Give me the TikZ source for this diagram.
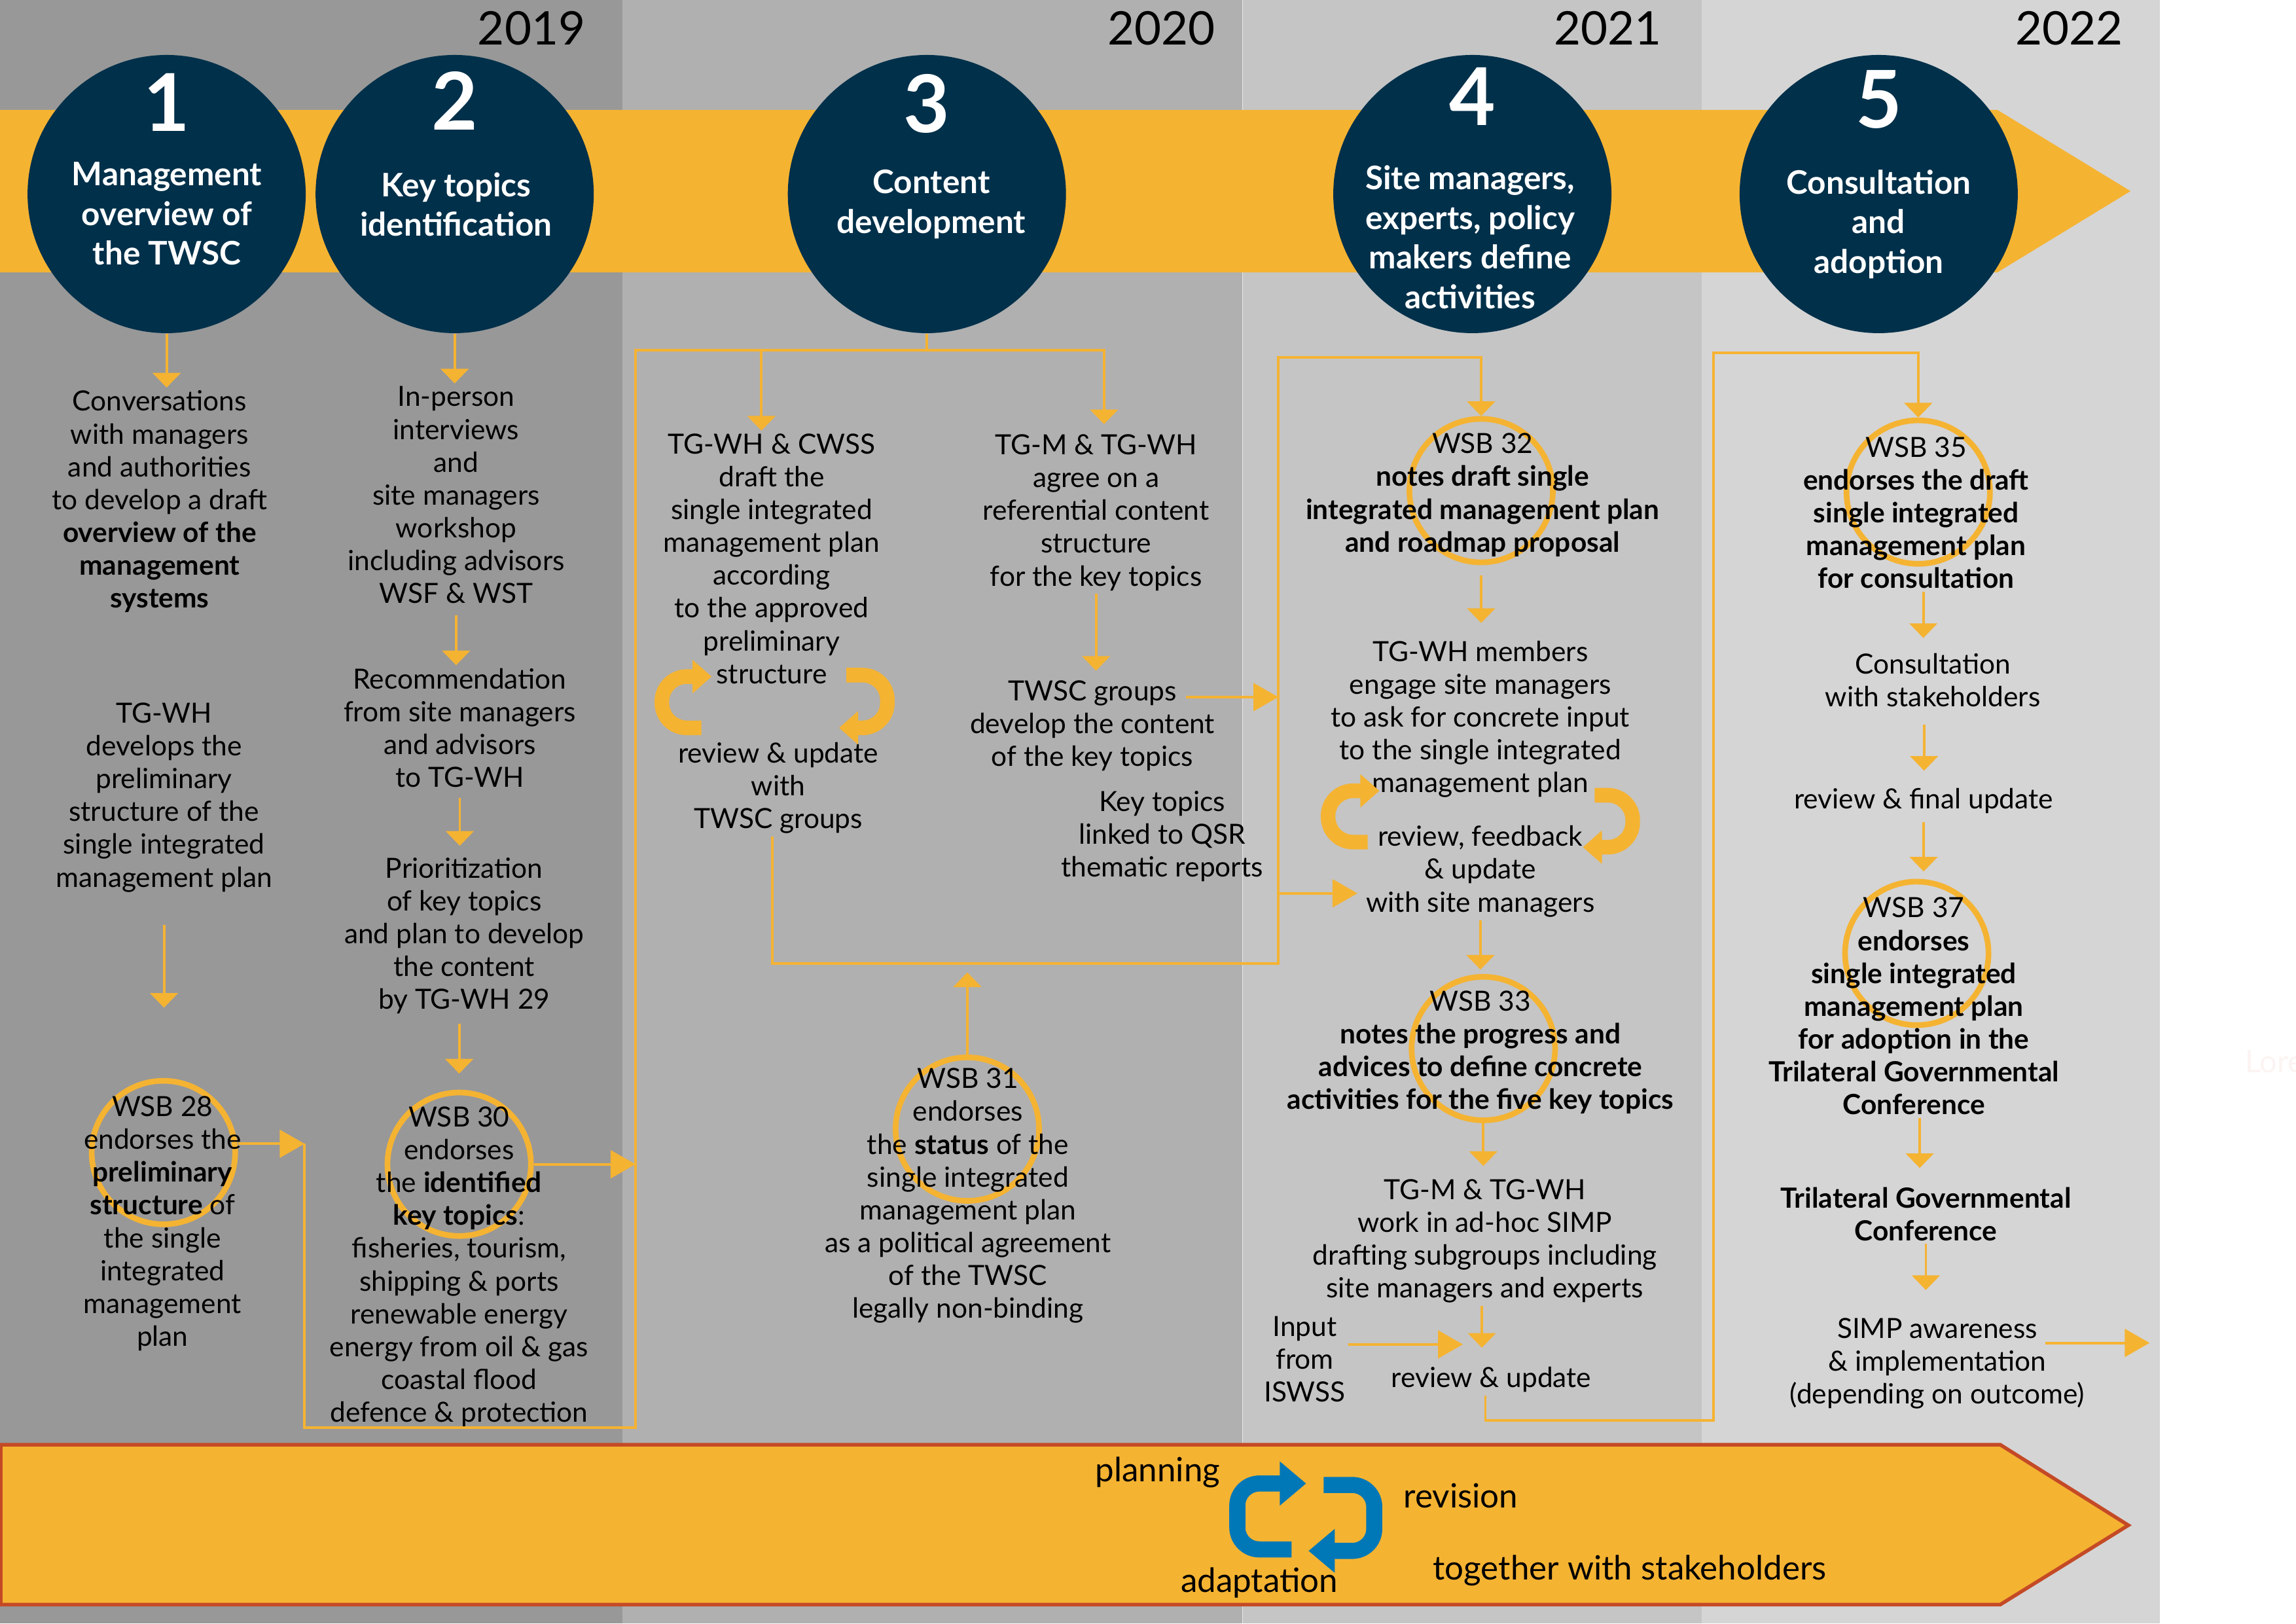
\documentclass[tikz,border=0pt]{standalone}
\usepackage{fontspec}
\setmainfont{Lato}
\usetikzlibrary{arrows.meta}
\definecolor{amber}{RGB}{245,179,50}
\definecolor{navy}{RGB}{0,48,74}
\definecolor{col19}{RGB}{152,152,152}
\definecolor{col20}{RGB}{176,176,176}
\definecolor{col21}{RGB}{197,197,197}
\definecolor{col22}{RGB}{213,213,213}
\definecolor{rust}{RGB}{196,74,38}
\definecolor{cycblue}{RGB}{0,120,183}
\definecolor{ghost}{RGB}{252,244,242}

\begin{document}
\begin{tikzpicture}[x=0.02cm,y=-0.02cm,
    disc/.style={circle,fill=navy,minimum size=3.8cm,inner sep=0pt},
    num/.style={text=white,inner sep=0pt,font=\bfseries\fontsize{31}{31}\selectfont},
    ttl/.style={text=white,align=center,font=\bfseries\fontsize{12.6}{15.4}\selectfont},
    txt/.style={align=center,inner sep=1pt,font=\fontsize{10.8}{12.75}\selectfont},
    ring/.style={circle,draw=amber,line width=2.2pt,minimum size=1.96cm,inner sep=0pt},
    year/.style={anchor=base east,inner sep=0pt,font=\fontsize{18}{18}\selectfont},
    link/.style={draw=amber,line width=1pt},
    flow/.style={link,-{Triangle[width=0.38cm,length=0.2cm]}},
    push/.style={link,-{Triangle[width=0.38cm,length=0.34cm]}},
    loopy/.style={draw=amber,line width=0.2cm,rounded corners=0.34cm,-{Triangle[width=0.44cm,length=0.26cm]}},
    bluey/.style={draw=cycblue,line width=0.22cm,rounded corners=0.3cm,-{Triangle[width=0.58cm,length=0.36cm]}},
    bandtxt/.style={inner sep=0pt,font=\fontsize{13}{15}\selectfont}]
\useasboundingbox (0,0) rectangle (1568,1108.5);
\fill[col19] (0,0) rectangle (425,1108.5);
\fill[col20] (425,0) rectangle (848.5,1108.5);
\fill[col21] (848.5,0) rectangle (1162,1108.5);
\fill[col22] (1162,0) rectangle (1475,1108.5);
\fill[white] (1475,0) rectangle (1568,1108.5);
\draw[white!60!col21,line width=0.4pt] (848.5,0) -- (848.5,1108.5);
\fill[amber] (0,75) -- (1364,75) -- (1455,130.5) -- (1364,186) -- (0,186) -- cycle;

\node[year] (y19) at (400,30.5) {2019};
\node[year] (y20) at (830,30.5) {2020};
\node[year] (y21) at (1135,30.5) {2021};
\node[year] (y22) at (1450,30.5) {2022};

\node[disc] (c1) at (113.8,132.5) {};
\node[disc] (c2) at (310.5,132.5) {};
\node[disc] (c3) at (633,132.5) {};
\node[disc] (c4) at (1005.5,132.5) {};
\node[disc] (c5) at (1283,132.5) {};
\node[num] (n1) at (113.8,70) {1};
\node[num] (n2) at (310.5,69) {2};
\node[num] (n3) at (633,71) {3};
\node[num] (n4) at (1005.5,66) {4};
\node[num] (n5) at (1283,68) {5};
\node[ttl] (t1) at (114,146) {Management\\overview of\\the TWSC};
\node[ttl] (t2) at (311.5,139.5) {Key topics\\identification};
\node[ttl] (t3) at (636,139.5) {Content\\development};
\node[ttl] (t4) at (1004,162) {Site managers,\\experts, policy\\makers define\\activities};
\node[ttl] (t5) at (1283,153) {Consultation\\and\\adoption};

\node[ring] (w28r) at (111.6,787) {};
\node[ring] (w30r) at (313.6,795) {};
\node[ring] (w31r) at (660.6,771) {};
\node[ring] (w32r) at (1011.5,335) {};
\node[ring] (w33r) at (1013,716) {};
\node[ring] (w35r) at (1310,336) {};
\node[ring] (w37r) at (1309,651) {};

\node[txt] (conv) at (109,342.5) {Conversations\\with managers\\and authorities\\to develop a draft\\\textbf{overview of the}\\\textbf{management}\\\textbf{systems}};
\node[txt] (tg1) at (112,544.5) {TG-WH\\develops the\\preliminary\\structure of the\\single integrated\\management plan};
\node[txt] (w28) at (111,835.5) {WSB 28\\endorses the\\\textbf{preliminary}\\\textbf{structure} of\\the single\\integrated\\management\\plan};
\node[txt] (inp) at (311.5,338) {In-person\\interviews\\and\\site managers\\workshop\\including advisors\\WSF \& WST};
\node[txt] (rec) at (314,497) {Recommendation\\from site managers\\and advisors\\to TG-WH};
\node[txt] (pri) at (317,639) {Prioritization\\of key topics\\and plan to develop\\the content\\by TG-WH 29};
\node[txt] (w30) at (313.5,865) {WSB 30\\endorses\\the \textbf{identified}\\\textbf{key topics}:\\fisheries, tourism,\\shipping \& ports\\renewable energy\\energy from oil \& gas\\coastal flood\\defence \& protection};

\node[txt] (tgc) at (527,381.5) {TG-WH \& CWSS\\draft the\\single integrated\\management plan\\according\\to the approved\\preliminary\\structure};
\node[txt] (rev3) at (531.5,538) {review \& update\\with\\TWSC groups};
\node[txt] (w31) at (661,816.5) {WSB 31\\endorses\\the \textbf{status} of the\\single integrated\\management plan\\as a political agreement\\of the TWSC\\legally non-binding};
\node[txt] (tgm) at (748.5,350) {TG-M \& TG-WH\\agree on a\\referential content\\structure\\for the key topics};
\node[txt] (tws) at (746,495.5) {TWSC groups\\develop the content\\of the key topics};
\node[txt] (kt) at (793.7,571) {Key topics\\linked to QSR\\thematic reports};

\node[txt] (w32) at (1012.5,338) {WSB 32\\\textbf{notes draft single}\\\textbf{integrated management plan}\\\textbf{and roadmap proposal}};
\node[txt] (tgm2) at (1011,491) {TG-WH members\\engage site managers\\to ask for concrete input\\to the single integrated\\management plan};
\node[txt] (rfb) at (1011,595) {review, feedback\\\& update\\with site managers};
\node[txt] (w33) at (1011,718.5) {WSB 33\\\textbf{notes the progress and}\\\textbf{advices to define concrete}\\\textbf{activities for the five key topics}};
\node[txt] (tgw) at (1014,847.5) {TG-M \& TG-WH\\work in ad-hoc SIMP\\drafting subgroups including\\site managers and experts};
\node[txt] (isw) at (891,928) {Input\\from\\ISWSS};
\node[txt] (rvu) at (1018.4,942) {review \& update};

\node[txt] (w35) at (1308.5,350) {WSB 35\\\textbf{endorses the draft}\\\textbf{single integrated}\\\textbf{management plan}\\\textbf{for consultation}};
\node[txt] (con) at (1320,464.5) {Consultation\\with stakeholders};
\node[txt] (rfu) at (1313.7,547) {review \& final update};
\node[txt] (w37) at (1307,687) {WSB 37\\\textbf{endorses}\\\textbf{single integrated}\\\textbf{management plan}\\\textbf{for adoption in the}\\\textbf{Trilateral Governmental}\\\textbf{Conference}};
\node[txt] (tgcf) at (1315.2,829) {\textbf{Trilateral Governmental}\\\textbf{Conference}};
\node[txt] (smp) at (1323,931) {SIMP awareness\\\& implementation\\(depending on outcome)};
\node[txt,text=ghost,font=\fontsize{12}{14}\selectfont] (lor) at (1562,725) {Lorem};

\coordinate (bend28) at (208,781);
\coordinate (sw2020) at (434,975);
\coordinate (nw2020) at (434,239);
\coordinate (ne2020) at (754,239);
\coordinate (drop1) at (520,239);
\coordinate (twscout) at (810,476);
\coordinate (sw2021) at (873,658);
\coordinate (nw2021) at (873,244);
\coordinate (in4) at (927,610);
\coordinate (iswss) at (999,918);
\coordinate (sw2022) at (1170,970);
\coordinate (nw2022) at (1170,241);
\coordinate (simpgo) at (1397,917);
\coordinate (simpout) at (1468,917);

\draw[flow] (c1.south) -- (c1.south |- conv.north);
\draw[flow,shorten <=0.41cm,shorten >=0.96cm] (tg1.south) -- (tg1.south |- w28r.north);
\draw[push] (w28r.east |- bend28) -- (bend28);
\draw[flow,shorten >=0.1cm] (bend28) |- (sw2020) -- (nw2020) -- (ne2020) -- (ne2020 |- tgm.north);
\draw[flow] (c2.south) -- (c2.south |- inp.north);
\draw[flow,shorten <=0.12cm] (inp.south) -- (inp.south |- rec.north);
\draw[flow,shorten <=0.1cm,shorten >=0.12cm] (rec.south) -- (rec.south |- pri.north);
\draw[flow,shorten <=0.09cm,shorten >=0.22cm] (w30r.north |- pri.south) -- (w30r.north);
\draw[push] (w30r.east) -- (w30r.east -| nw2020);

\draw[link] (c3.south) -- (c3.south |- nw2020);
\draw[flow] (drop1) -- (drop1 |- tgc.north);
\draw[flow,shorten >=0.09cm] (tgm.south) -- (tgm.south |- tws.north);
\draw[push] (twscout) -- (twscout -| nw2021);
\draw[loopy] (479,497) -- (452,497) -- (452,462) -- (486,462);
\draw[loopy] (578,461) -- (606,461) -- (606,497) -- (573,497);
\draw[flow] ([xshift=-0.08cm]rev3.south) |- (sw2021) -- (nw2021) -| (w32r.north);
\draw[flow,shorten >=0.12cm] (w31r.north) -- (w31r.north |- sw2021);
\draw[push] (in4 -| nw2021) -- (in4);

\draw[flow,shorten <=0.14cm,shorten >=0.2cm] (w32r.south) -- (w32r.south |- tgm2.north);
\draw[loopy] (934,575) -- (907,575) -- (907,540) -- (942,540);
\draw[loopy] (1089,543) -- (1115,543) -- (1115,578.5) -- (1081,578.5);
\draw[flow,shorten >=0.06cm] (rfb.south) -- (rfb.south |- w33r.north);
\draw[flow,shorten >=0.14cm] (w33r.south) -- (w33r.south |- tgw.north);
\draw[flow,shorten >=0.22cm] ([xshift=-0.04cm]tgw.south) -- ([xshift=-0.04cm]tgw.south |- rvu.north);
\draw[push] (isw.east |- iswss) -- (iswss);
\draw[flow] ([xshift=-0.08cm]rvu.south) |- (sw2022) -- (nw2022) -| (w35r.north);

\draw[flow,shorten >=0.17cm] ([xshift=0.1cm]w35.south) -- ([xshift=0.1cm]w35.south |- con.north);
\draw[flow,shorten <=0.2cm,shorten >=0.2cm] ([xshift=-0.12cm]con.south) -- ([xshift=-0.12cm]con.south |- rfu.north);
\draw[flow,shorten <=0.07cm,shorten >=0.1cm] (rfu.south) -- (rfu.south |- w37r.north);
\draw[flow,shorten >=0.22cm] ([xshift=0.08cm]w37.south) -- ([xshift=0.08cm]w37.south |- tgcf.north);
\draw[flow,shorten >=0.34cm] (tgcf.south) -- (tgcf.south |- smp.north);
\draw[push] (simpgo) -- (simpout);

\filldraw[fill=amber,draw=rust,line width=1.4pt] (0.5,986.5) -- (1366,986.5) -- (1453.5,1041.5) -- (1366,1095.7) -- (0.5,1095.7) -- cycle;
\draw[bluey] (882,1058) -- (845,1058) -- (845,1013) -- (892,1013);
\draw[bluey] (904,1014) -- (938.5,1014) -- (938.5,1059) -- (893.6,1059);
\node[bandtxt] (plan) at (790.7,1005.5) {planning};
\node[bandtxt] (revi) at (997.6,1021.5) {revision};
\node[bandtxt] (adap) at (860,1081) {adaptation};
\node[bandtxt] (stake) at (1113,1072.5) {together with stakeholders};
\end{tikzpicture}
\end{document}
